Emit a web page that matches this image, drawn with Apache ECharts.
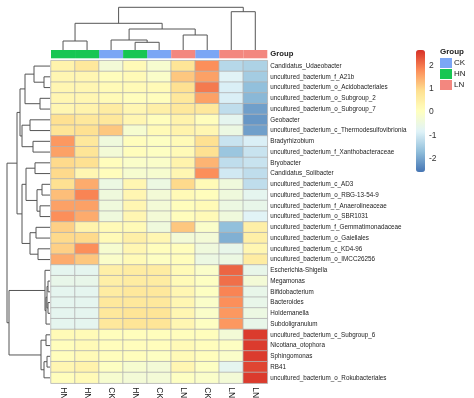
<!DOCTYPE html>
<html>
<head>
<meta charset="utf-8">
<script src="https://cdn.jsdelivr.net/npm/echarts@6/dist/echarts.min.js"></script>
<style>
html, body { margin: 0; padding: 0; background: #fff; }
#main { width: 474px; height: 398px; }
</style>
</head>
<body>
<div id="main"></div>
<script>
// 样本(列)与分组
var samples = ['HN1', 'HN3', 'CK2', 'HN2', 'CK1', 'LN1', 'CK3', 'LN2', 'LN3'];
var sampleGroup = ['HN', 'HN', 'CK', 'HN', 'CK', 'LN', 'CK', 'LN', 'LN'];
var groups = ['CK', 'HN', 'LN'];
var groupColors = ['#7ba6f5', '#17c653', '#f3877f'];

// 物种(行)
var taxa = [
    'Candidatus_Udaeobacter',
    'uncultured_bacterium_f_A21b',
    'uncultured_bacterium_o_Acidobacteriales',
    'uncultured_bacterium_o_Subgroup_2',
    'uncultured_bacterium_o_Subgroup_7',
    'Geobacter',
    'uncultured_bacterium_c_Thermodesulfovibrionia',
    'Bradyrhizobium',
    'uncultured_bacterium_f_Xanthobacteraceae',
    'Bryobacter',
    'Candidatus_Solibacter',
    'uncultured_bacterium_c_AD3',
    'uncultured_bacterium_o_RBG-13-54-9',
    'uncultured_bacterium_f_Anaerolineaceae',
    'uncultured_bacterium_o_SBR1031',
    'uncultured_bacterium_f_Gemmatimonadaceae',
    'uncultured_bacterium_o_Gaiellales',
    'uncultured_bacterium_c_KD4-96',
    'uncultured_bacterium_o_IMCC26256',
    'Escherichia-Shigella',
    'Megamonas',
    'Bifidobacterium',
    'Bacteroides',
    'Holdemanella',
    'Subdoligranulum',
    'uncultured_bacterium_c_Subgroup_6',
    'Nicotiana_otophora',
    'Sphingomonas',
    'RB41',
    'uncultured_bacterium_o_Rokubacteriales'
];

// 标准化丰度(每行对应 samples 的顺序)
var zScores = [
    [0.4, 0.7, -0.3, 0.2, -0.2, 0.8, 1.8, -1.3, -1.4],
    [0.3, 0.3, 0.1, 0.2, -0.1, 1.2, 1.6, -0.8, -1.5],
    [0.3, 0.3, 0.2, 0.2, 0.2, 0.9, 2.0, -0.9, -1.7],
    [0.3, 0.3, 0.2, 0.1, 0.1, 0.7, 1.6, -0.9, -1.8],
    [0.3, 0.4, 0.6, 0.3, 0.5, 0.7, 0.7, -1.2, -2.1],
    [0.9, 0.7, 0.7, 0.3, 0.1, 0.4, 0.1, -0.7, -2.2],
    [0.8, 0.9, 1.2, -0.2, 0.2, 0.4, 0.3, -0.5, -2.1],
    [1.7, 0.7, -0.4, 0.1, 0.0, 0.2, 0.9, -1.1, -0.9],
    [1.6, 0.8, -0.3, 0.1, 0.0, 0.2, 0.9, -1.6, -1.1],
    [1.0, 0.9, 0.1, -0.1, -0.1, 0.4, 1.4, -1.2, -1.1],
    [1.0, 0.3, 0.1, -0.2, -0.2, 0.3, 1.8, -1.0, -1.2],
    [0.9, 1.5, -0.5, 0.3, -0.5, 1.0, 0.2, -0.4, -1.2],
    [1.3, 1.9, -0.4, 0.3, -0.3, 0.2, 0.1, -0.4, -0.7],
    [1.6, 1.6, -0.4, 0.3, -0.3, 0.1, 0.2, -0.5, -0.6],
    [1.8, 1.5, -0.4, 0.3, -0.3, 0.1, 0.2, -0.4, -0.8],
    [1.1, 0.4, 0.2, 0.2, -0.4, 1.2, -0.1, -1.7, 0.5],
    [1.0, 1.0, 0.2, 0.5, 0.3, -0.3, -0.3, -1.9, 0.5],
    [1.1, 1.8, -0.2, 0.3, 0.1, 0.1, -0.4, -0.6, 0.3],
    [1.5, 1.2, -0.1, 0.2, 0.0, 0.1, -0.5, -0.5, 0.6],
    [-0.7, -0.7, 0.5, 0.6, 0.6, 0.2, -0.1, 2.2, -0.6],
    [-0.6, -0.6, 0.5, 0.6, 0.6, 0.2, 0.0, 2.1, -0.3],
    [-0.7, -0.7, 0.6, 0.7, 0.7, 0.3, 0.0, 1.9, -0.6],
    [-0.7, -0.7, 0.7, 0.7, 0.7, 0.3, -0.1, 1.8, -0.6],
    [-0.7, -0.7, 0.7, 0.8, 0.8, 0.3, -0.1, 1.7, -0.5],
    [-0.7, -0.7, 0.7, 0.8, 0.8, 0.3, 0.0, 1.7, -0.6],
    [0.2, 0.2, 0.1, 0.1, 0.1, 0.1, 0.1, -0.3, 2.6],
    [0.1, 0.2, 0.1, 0.1, 0.1, 0.2, 0.1, 0.0, 2.6],
    [0.1, 0.2, 0.1, 0.1, 0.0, 0.2, 0.1, -0.1, 2.6],
    [0.3, 0.4, 0.0, -0.2, -0.3, 0.3, 0.0, -0.7, 2.5],
    [0.1, 0.2, -0.2, -0.3, -0.3, 0.0, -0.1, -0.3, 2.6]
];

// 聚类树, 同 hclust 的 merge: 负数为叶子, 正数为之前的合并
var rowMergeA = [-2, -1, -4, 2, -6, -8, 5, 4, -10, -12, -14, 10, 9, -16, -18, 14, 13, 8, -21, -23, 19, 21, -20, -26, -28, 25, 24, 23, 18];
var rowMergeB = [-3, 1, -5, 3, -7, -9, 6, 7, -11, -13, -15, 11, 12, -17, -19, 15, 16, 17, -22, -24, 20, -25, 22, -27, -29, -30, 26, 27, 28];
var rowMergeH = [6, 16, 10, 25, 20, 17, 28, 30, 15, 8, 10, 13, 24, 14, 12, 20, 28, 33, 2, 2, 3, 4, 5, 4, 3, 6, 9, 41, 43];

var colMergeA = [-1, -4, -3, -6, 3, 1, -8, 6];
var colMergeB = [-2, -5, 2, -7, 4, 5, -9, 7];
var colMergeH = [9, 7.7, 10, 15, 21, 26.7, 38.3, 42.7];

// 色带
var palette = ['#4575b4', '#91bfdb', '#e0f3f8', '#ffffbf', '#fee090', '#fc8d59', '#d73027'];
var colorTicks = [-2, -1, 0, 1, 2];

var font = 'Liberation Sans, Arial, sans-serif';

// 把 merge 转成线段 [左位置, 左高度, 右位置, 右高度, 合并高度]
function dendroSegments(a, b, h) {
    var nodes = [];
    var segs = [];
    function get(k) {
        return k < 0 ? {pos: -k - 0.5, h: 0} : nodes[k - 1];
    }
    for (var i = 0; i < a.length; i++) {
        var l = get(a[i]), r = get(b[i]);
        segs.push([l.pos, l.h, r.pos, r.h, h[i]]);
        nodes.push({pos: (l.pos + r.pos) / 2, h: h[i]});
    }
    return segs;
}

var lineStyle = {stroke: '#555', lineWidth: 1, fill: null};

function colDendro(params, api) {
    var pts = [
        api.coord([api.value(0), api.value(1)]),
        api.coord([api.value(0), api.value(4)]),
        api.coord([api.value(2), api.value(4)]),
        api.coord([api.value(2), api.value(3)])
    ];
    return {type: 'polyline', shape: {points: pts}, style: lineStyle};
}

function rowDendro(params, api) {
    var pts = [
        api.coord([api.value(1), api.value(0)]),
        api.coord([api.value(4), api.value(0)]),
        api.coord([api.value(4), api.value(2)]),
        api.coord([api.value(3), api.value(2)])
    ];
    return {type: 'polyline', shape: {points: pts}, style: lineStyle};
}

function annoCell(params, api) {
    var c = api.coord([api.value(0), api.value(1)]);
    var s = api.size([1, 1]);
    return {
        type: 'rect',
        shape: {x: c[0] - s[0] / 2, y: c[1] - s[1] / 2, width: s[0], height: s[1]},
        style: {fill: api.visual('color')}
    };
}

var heatData = [];
for (var r = 0; r < taxa.length; r++) {
    for (var c = 0; c < samples.length; c++) {
        heatData.push([c, r, zScores[r][c]]);
    }
}

// v6 默认会把轴标签收进画布, 这里关掉
function box(left, top, width, height) {
    return {left: left, top: top, width: width, height: height, outerBoundsMode: 'none', containLabel: false};
}

var series = [{
    type: 'heatmap',
    xAxisIndex: 0,
    yAxisIndex: 0,
    data: heatData,
    itemStyle: {borderColor: '#b3b3b3', borderWidth: 0.8},
    emphasis: {disabled: true}
}, {
    type: 'custom',
    xAxisIndex: 2,
    yAxisIndex: 2,
    data: dendroSegments(colMergeA, colMergeB, colMergeH),
    renderItem: colDendro,
    silent: true
}, {
    type: 'custom',
    xAxisIndex: 3,
    yAxisIndex: 3,
    data: dendroSegments(rowMergeA, rowMergeB, rowMergeH),
    renderItem: rowDendro,
    silent: true
}];

groups.forEach(function (g, gi) {
    var d = [];
    sampleGroup.forEach(function (sg, i) {
        if (sg == g) d.push([i, 0]);
    });
    series.push({
        name: g,
        type: 'custom',
        xAxisIndex: 1,
        yAxisIndex: 1,
        data: d,
        itemStyle: {color: groupColors[gi]},
        renderItem: annoCell,
        silent: true
    });
});

var chart = echarts.init(document.getElementById('main'), null, {renderer: 'canvas'});
chart.setOption({
    animation: false,
    backgroundColor: '#fff',
    textStyle: {fontFamily: font},
    title: {
        text: 'Group',
        left: 435,
        top: 43,
        textStyle: {fontSize: 8, fontWeight: 'bold', color: '#222', fontFamily: font}
    },
    legend: {
        data: groups,
        orient: 'vertical',
        left: 435,
        top: 53,
        itemWidth: 12,
        itemHeight: 10,
        itemGap: 1,
        icon: 'rect',
        selectedMode: false,
        textStyle: {fontSize: 8, color: '#222', fontFamily: font, padding: [0, 0, 0, -3]}
    },
    visualMap: {
        type: 'continuous',
        seriesIndex: 0,
        min: -2.6,
        max: 2.7,
        calculable: false,
        showLabel: false,
        text: null,
        left: 416,
        top: 50,
        padding: 0,
        itemWidth: 9,
        itemHeight: 122,
        inRange: {color: palette}
    },
    grid: [
        box(51, 60.7, 216.3, 322.5),
        box(51, 50, 216.3, 8.3),
        box(51, 4, 216.3, 46),
        box(5, 60.7, 45, 322.5),
        box(416, 50, 9, 122)
    ],
    xAxis: [{
        gridIndex: 0,
        type: 'category',
        data: samples,
        position: 'bottom',
        axisLine: {show: false},
        axisTick: {show: false},
        axisLabel: {rotate: -90, fontSize: 8.5, margin: 4, color: '#222'}
    }, {
        gridIndex: 1, type: 'category', data: samples, show: false
    }, {
        gridIndex: 2, type: 'value', min: 0, max: 9, show: false
    }, {
        gridIndex: 3, type: 'value', min: 0, max: 45, inverse: true, show: false
    }, {
        gridIndex: 4, type: 'value', min: 0, max: 1, show: false
    }],
    yAxis: [{
        gridIndex: 0,
        type: 'category',
        data: taxa,
        inverse: true,
        position: 'right',
        axisLine: {show: false},
        axisTick: {show: false},
        axisLabel: {fontSize: 6.3, margin: 3, color: '#222'}
    }, {
        gridIndex: 1,
        type: 'category',
        data: ['Group'],
        position: 'right',
        axisLine: {show: false},
        axisTick: {show: false},
        axisLabel: {fontSize: 7.7, fontWeight: 'bold', margin: 3, color: '#222'}
    }, {
        gridIndex: 2, type: 'value', min: 0, max: 46, show: false
    }, {
        gridIndex: 3, type: 'value', min: 0, max: 30, inverse: true, show: false
    }, {
        gridIndex: 4,
        type: 'value',
        min: -2.6,
        max: 2.7,
        position: 'right',
        axisLine: {show: false},
        axisTick: {show: false},
        splitLine: {show: false},
        axisLabel: {customValues: colorTicks, fontSize: 8.5, margin: 4, color: '#333'}
    }],
    series: series
});
</script>
</body>
</html>
